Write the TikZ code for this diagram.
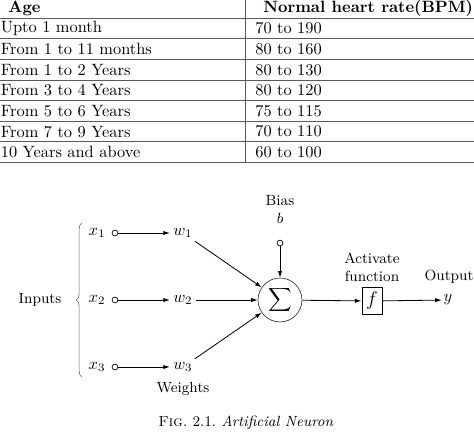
\documentclass[tikz,border=0pt]{standalone}
\usepackage{amsmath,amssymb}
\usetikzlibrary{arrows.meta,positioning,calc,decorations.pathreplacing}

\begin{document}
\begin{tikzpicture}[
	x=0.61pt, y=-0.61pt,
	>={Latex[length=4pt,width=2.6pt]},
	cell/.style={
		anchor=west,
		inner sep=0pt,
		font=\normalsize
	},
	head/.style={
		cell,
		font=\bfseries
	},
	rule/.style={
		draw=black!65,
		line width=0.7pt
	},
	lbl/.style={
		font=\small,
		inner sep=1pt,
		align=center
	},
	port/.style={
		draw,
		circle,
		inner sep=0pt,
		minimum size=3.6pt
	},
	sumnode/.style={
		draw=black!80,
		circle,
		inner sep=0pt,
		minimum size=26.8pt
	},
	fbox/.style={
		draw,
		line width=0.6pt,
		inner sep=0pt,
		minimum width=12.2pt,
		minimum height=17pt,
		font=\large
	},
	link/.style={
		->,
		line width=0.5pt
	}
	]
	
	\useasboundingbox (0,0) rectangle (474,439);
	
	% table
	\node[head] (hage) at (8,8.5) {Age};
	\node[head] (hrate) at (263,8.5) {Normal heart rate(BPM)};
	
	\foreach \i/\age/\rate in {
		1/Upto 1 month/70 to 190,
		2/From 1 to 11 months/80 to 160,
		3/From 1 to 2 Years/80 to 130,
		4/From 3 to 4 Years/80 to 120,
		5/From 5 to 6 Years/75 to 115,
		6/From 7 to 9 Years/70 to 110,
		7/10 Years and above/60 to 100}
	{
		\node[cell] (age\i) at (0.5,{18.3+20.6*(\i-0.5)}) {\age};
		\node[cell] (rate\i) at (255,{18.3+20.6*(\i-0.5)}) {\rate};
	}
	
	\foreach \i in {0,...,7}
		\draw[rule] (0,{18.3+20.6*\i}) -- (474,{18.3+20.6*\i});
	\draw[rule] (245.7,0) -- (245.7,162.5);
	
	% neuron
	\node[lbl] (inputs) at (40,300) {Inputs};
	
	\foreach \i/\yy in {1/233,2/300,3/367}
	{
		\node[inner sep=1pt] (x\i) at (97,\yy) {$x_{\i}$};
		\node[port] (p\i) at (115,\yy) {};
		\node[inner sep=2pt] (w\i) at (183,\yy) {$w_{\i}$};
		\draw[link] (p\i) -- (w\i);
	}
	
	\coordinate (btop) at (82,223);
	\coordinate (bbot) at (82,377);
	\draw[black!60,decorate,decoration={brace,amplitude=3.5pt}] (bbot) -- (btop);
	
	\node[lbl] (weights) at (183,389) {Weights};
	
	\node[sumnode] (sum) at (280,300) {$\displaystyle\sum$};
	
	\node[lbl] (bias) at (280,209) {Bias\\$b$};
	\node[port] (pb) at (280,243) {};
	
	\node[fbox] (fn) at (372,301) {$f$};
	\node[lbl,above=1.5pt of fn] (act) {Activate\\function};
	
	\node[inner sep=1pt] (out) at (448,300) {$y$};
	\node[lbl] (outlbl) at (449,277) {Output};
	
	\draw[link] (w1) -- (sum);
	\draw[link] (w2) -- (sum);
	\draw[link] (w3) -- (sum);
	\draw[link] (pb) -- (sum);
	\draw[link] (sum) -- (fn);
	\draw[link] (fn) -- (out);
	
	\node[font=\small] (caption) at (246,423)
	{\textsc{Fig.}\ 2.1.\ \textit{Artificial Neuron}};
	
\end{tikzpicture}
\end{document}
